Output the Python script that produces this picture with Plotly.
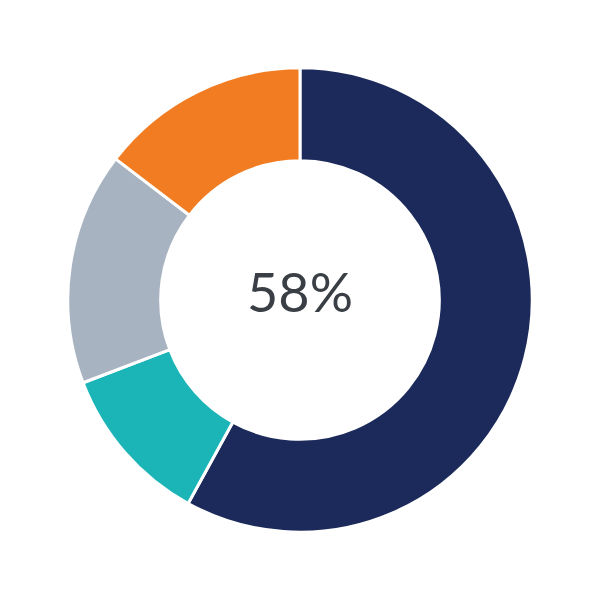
import plotly.graph_objects as go

labels = ["Navy", "Teal", "Gray", "Orange"]
values = [58, 11.2, 16.2, 14.6]
colors = ["#1b2a5a", "#1bb5b8", "#a8b3c2", "#f27c21"]
center_text = "58%"

cx, cy = 0.5 - 8 / 600, 0.5 + 8 / 600
half = 0.387

fig = go.Figure(go.Pie(
    labels=labels,
    values=values,
    hole=0.6,
    sort=False,
    direction="clockwise",
    rotation=0,
    marker=dict(colors=colors, line=dict(color="white", width=3)),
    textinfo="none",
    hoverinfo="label+percent",
    domain=dict(x=[cx - half, cx + half], y=[cy - half, cy + half]),
    showlegend=False,
))

fig.add_annotation(
    text=center_text, x=cx, y=cy + 9 / 600, xref="paper", yref="paper",
    showarrow=False, font=dict(family="Lato", size=54, color="#3a3f45"),
)

fig.update_layout(
    width=600, height=600,
    margin=dict(l=0, r=0, t=0, b=0),
    paper_bgcolor="white", plot_bgcolor="white",
)

fig.write_html("out.html")
